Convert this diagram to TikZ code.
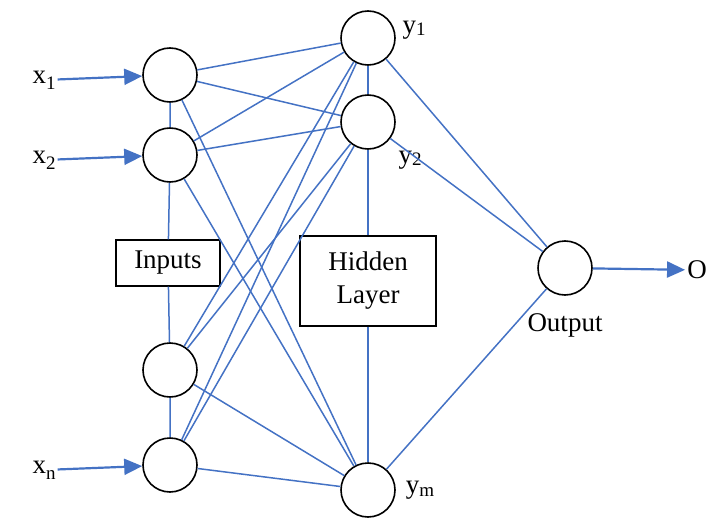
\documentclass[tikz,border=0pt]{standalone}
\usepackage{fontspec}
\setmainfont{Liberation Serif}
\usetikzlibrary{arrows.meta}
\definecolor{netblue}{HTML}{4472C4}

\begin{document}
\begin{tikzpicture}[x=1pt,y=-1pt, font=\fontsize{27}{31}\selectfont,
    neuron/.style={circle, draw, line width=1.6pt, minimum size=54pt, inner sep=0pt},
    tag/.style={rectangle, draw, line width=1.4pt, inner sep=4pt},
    link/.style={netblue, line width=1.5pt},
    feed/.style={netblue, line width=2.2pt, -{Triangle[length=18pt,width=16pt]}}]
    \useasboundingbox (0,0) rectangle (728,524);
    \node[neuron] (i1) at (170,75) {};
    \node[neuron] (i2) at (170,155) {};
    \node[neuron] (i3) at (170,370) {};
    \node[neuron] (i4) at (170,465) {};
    \node[neuron] (h1) at (368,38) {};
    \node[neuron] (h2) at (368,122) {};
    \node[neuron] (h3) at (368,490) {};
    \node[neuron] (out) at (565,268) {};
    \node[tag, minimum width=104pt, minimum height=46pt] (inputs) at (168,263) {Inputs};
    \node[tag, minimum width=136pt, minimum height=90pt, align=center] (hidden) at (368,281) {Hidden\\[2pt]Layer};
    % labels
    \node[inner sep=2pt] (x1) at (44,80) {x\raisebox{-6pt}{\fontsize{19}{21}\selectfont 1}};
    \node[inner sep=2pt] (x2) at (44,160) {x\raisebox{-6pt}{\fontsize{19}{21}\selectfont 2}};
    \node[inner sep=2pt] (xn) at (44,470) {x\raisebox{-6pt}{\fontsize{19}{21}\selectfont n}};
    \node[inner sep=2pt] (o) at (697,270) {O};
    \node at (414,30) {y\raisebox{-2pt}{\fontsize{19}{21}\selectfont 1}};
    \node at (410,160) {y\raisebox{-2pt}{\fontsize{19}{21}\selectfont 2}};
    \node at (420,490) {y\raisebox{-3pt}{\fontsize{19}{21}\selectfont m}};
    \node at (565,325) {Output};
    % column lines
    \draw[link] (i1) -- (i2) -- (inputs) -- (i3) -- (i4);
    \draw[link] (h1) -- (h2) -- (hidden) -- (h3);
    % weights
    \foreach \i in {i1,i2,i3,i4}
        \foreach \h in {h1,h2,h3}
            \draw[link] (\i) -- (\h);
    \foreach \h in {h1,h2,h3}
        \draw[link] (\h) -- (out);
    % inputs and output
    \draw[feed] (x1) -- (i1);
    \draw[feed] (x2) -- (i2);
    \draw[feed] (xn) -- (i4);
    \draw[feed] (out) -- (o);
\end{tikzpicture}
\end{document}
